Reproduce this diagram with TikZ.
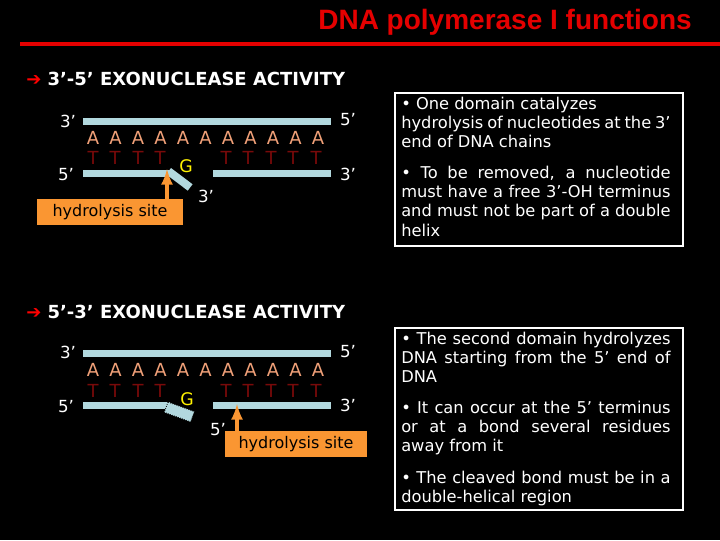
\documentclass[tikz,border=0pt]{standalone}
\usepackage{fontspec}
\setmainfont{DejaVu Sans}
\newfontfamily\titlefont{Liberation Sans}
\definecolor{strandc}{RGB}{178,216,222}
\definecolor{acol}{RGB}{240,160,120}
\definecolor{tcol}{RGB}{120,10,10}
\definecolor{orng}{RGB}{250,150,50}
\begin{document}
\hyphenpenalty=10000\relax
\exhyphenpenalty=10000\relax
\begin{tikzpicture}[x=0.75pt,y=-0.75pt,
  strand/.style={fill=strandc, draw=none},
  lab/.style={text=white,font=\fontsize{12.5}{13}\selectfont,inner sep=0},
  A/.style={text=acol,font=\fontsize{13.5}{13}\selectfont,inner sep=0},
  T/.style={text=tcol,font=\fontsize{13.5}{13}\selectfont,inner sep=0},
  G/.style={text=yellow,font=\fontsize{13}{13}\selectfont,inner sep=0},
  hbox/.style={fill=orng,text=black,font=\fontsize{12}{12}\selectfont,inner sep=2pt},
  info/.style={text=white,align=justify,text width=202pt,font=\fontsize{12.2}{14.3}\selectfont,inner sep=0,anchor=north west},
  frame/.style={draw=white,line width=2pt},
  hdr/.style={text=white,font=\bfseries\fontsize{13.5}{14}\selectfont,anchor=west,inner sep=0},
  harrow/.style={-latex,orng,line width=3pt}]
\fill[black] (0,0) rectangle (720,540);
\useasboundingbox (0,0) rectangle (720,540);
\node[anchor=east,inner sep=0,text=red!90!black,font=\titlefont\bfseries\fontsize{21}{22}\selectfont] (title) at (692,22) {DNA polymerase I functions};
\fill[red!90!black] (20,42) rectangle (720,46);
% ---- section 1
\node[hdr] (h1) at (26,79) {\textcolor{red}{➔} 3’-5’ EXONUCLEASE ACTIVITY};
\fill[strand] (83,118) rectangle (331,125);
\fill[strand] (83,170) rectangle (170,177);
\fill[strand] (213,170) rectangle (331,177);
\fill[strand,rotate around={-37:(171,168)}] (171,168) rectangle (198,176);
\foreach \i in {0,...,10}{\node[A] (a1\i) at (93+22.5*\i,138) {A};}
\foreach \xx [count=\i] in {93,115,138,160,226,248,271,293,316}{\node[T] (t1\i) at (\xx,158) {T};}
\node[G] (g1) at (186,166) {G};
\node[lab] (l1a) at (68,121) {3’};
\node[lab] (l1b) at (348,120) {5’};
\node[lab] (l1c) at (66,175) {5’};
\node[lab] (l1d) at (348,174) {3’};
\node[lab] (l1e) at (206,196) {3’};
\node[hbox,minimum width=109pt,minimum height=19pt] (hs1) at (110,212) {hydrolysis site};
\coordinate (tip1) at (167,169);
\draw[harrow] (hs1.north -| tip1) -- (tip1);
\draw[frame] (395,93) rectangle (683,246);
\node[info] (box1) at (401,97) {• One domain catalyzes\\ hydrolysis of nucleotides at the 3’\\ end of DNA chains\\[9pt]
• To be removed, a nucleotide must have a free 3’-OH terminus and must not be part of a double helix\strut};
% ---- section 2
\node[hdr] (h2) at (26,312) {\textcolor{red}{➔} 5’-3’ EXONUCLEASE ACTIVITY};
\fill[strand] (83,350) rectangle (331,357);
\fill[strand] (83,402) rectangle (170,409);
\fill[strand] (213,402) rectangle (331,409);
\filldraw[strand,rotate around={-20:(168,402)},draw=black,densely dotted,line width=0.6pt] (168,402) rectangle (196,413);
\foreach \i in {0,...,10}{\node[A] (a2\i) at (93+22.5*\i,370) {A};}
\foreach \xx [count=\i] in {93,115,138,160,226,248,271,293,316}{\node[T] (t2\i) at (\xx,391) {T};}
\node[G] (g2) at (187,399) {G};
\node[lab] (l2a) at (68,352) {3’};
\node[lab] (l2b) at (348,352) {5’};
\node[lab] (l2c) at (66,407) {5’};
\node[lab] (l2d) at (348,405) {3’};
\node[lab] (l2e) at (218,430) {5’};
\node[hbox,minimum width=106pt,minimum height=19pt] (hs2) at (296,444) {hydrolysis site};
\coordinate (tip2) at (237,404);
\draw[harrow] (hs2.north -| tip2) -- (tip2);
\draw[frame] (395,328) rectangle (683,510);
\node[info] (box2) at (401,332) {• The second domain hydrolyzes DNA starting from the 5’ end of DNA\\[9pt]
• It can occur at the 5’ terminus or at a bond several residues away from it\\[9pt]
• The cleaved bond must be in a double-helical region\strut};
\end{tikzpicture}
\end{document}
